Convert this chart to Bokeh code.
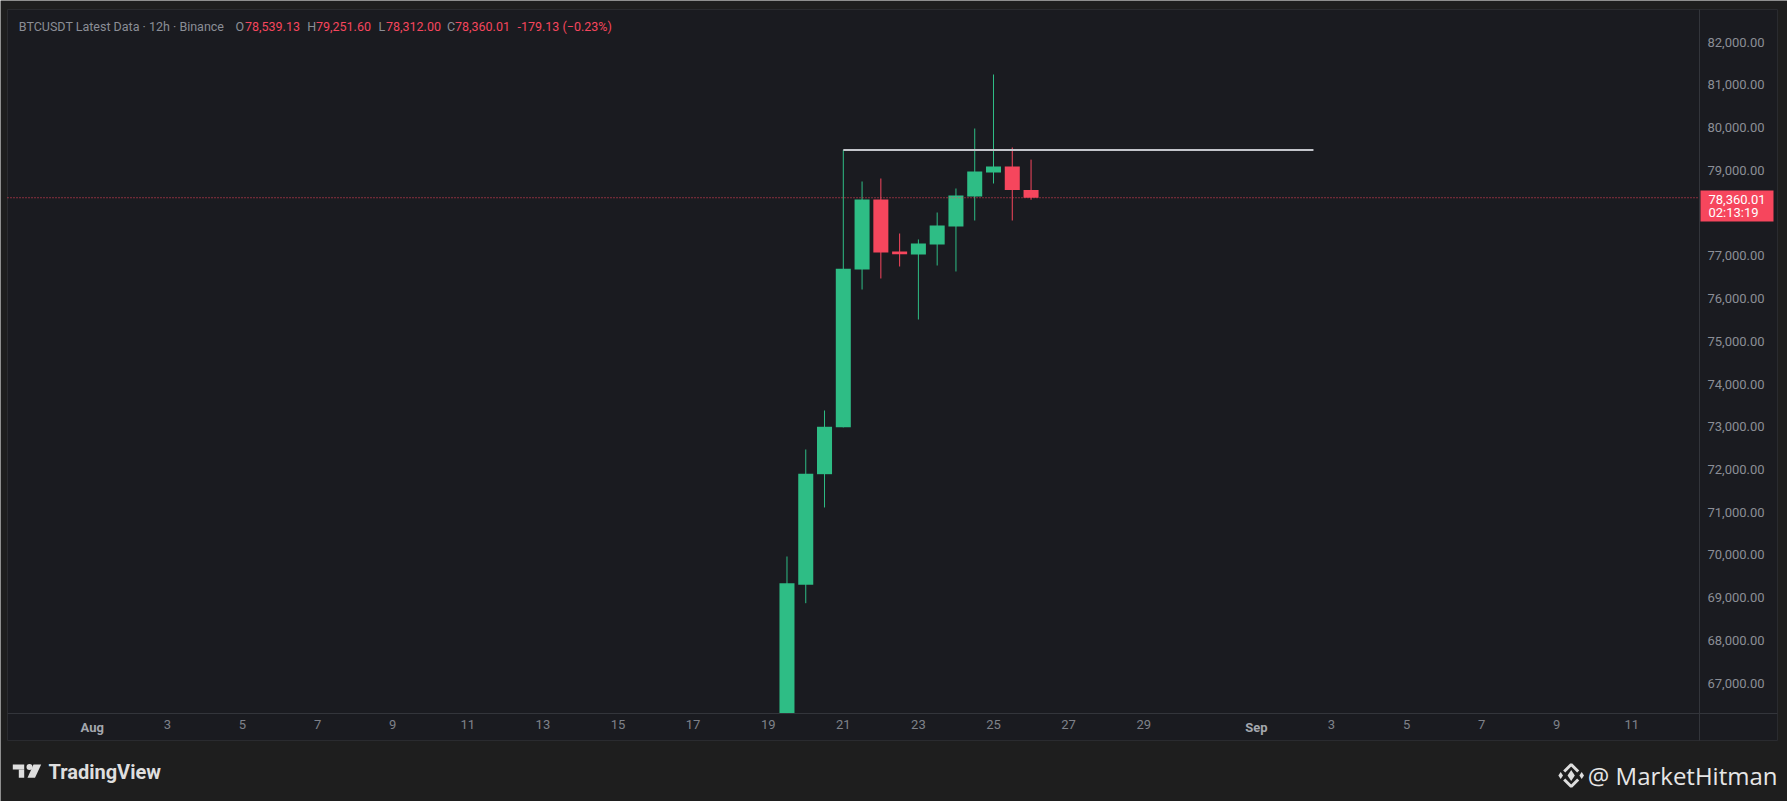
import pandas as pd
from bokeh.plotting import figure
from bokeh.models import ColumnDataSource, Range1d, FixedTicker, NumeralTickFormatter, LinearAxis, Label
from bokeh.embed import file_html
from bokeh.resources import INLINE
from bokeh.core.properties import value

# ---------------- data ----------------
times = ["2024-08-19 12:00", "2024-08-20 00:00", "2024-08-20 12:00", "2024-08-21 00:00",
         "2024-08-21 12:00", "2024-08-22 00:00", "2024-08-22 12:00", "2024-08-23 00:00",
         "2024-08-23 12:00", "2024-08-24 00:00", "2024-08-24 12:00", "2024-08-25 00:00",
         "2024-08-25 12:00", "2024-08-26 00:00"]
opens = [66300, 69300, 71890, 72990, 76680, 78319, 77102, 77032, 77266, 77687, 78389, 78951, 79091, 78539.13]
highs = [69964, 72468, 73381, 79480, 78740, 78810, 77523, 77383, 78014, 78576, 79980, 81244, 79536, 79251.60]
lows = [66300, 68871, 71111, 72985, 76212, 76470, 76751, 75510, 76774, 76634, 77827, 78693, 77827, 78312.00]
closes = [69340, 71900, 73000, 76700, 78319, 77078, 77039, 77289, 77710, 78412, 78974, 79091, 78539.14, 78360.01]

tick_dates = ["2024-08-01", "2024-08-03", "2024-08-05", "2024-08-07", "2024-08-09", "2024-08-11",
              "2024-08-13", "2024-08-15", "2024-08-17", "2024-08-19", "2024-08-21", "2024-08-23",
              "2024-08-25", "2024-08-27", "2024-08-29", "2024-09-01", "2024-09-03", "2024-09-05",
              "2024-09-07", "2024-09-09", "2024-09-11"]
tick_labels = ["Aug", "3", "5", "7", "9", "11", "13", "15", "17", "19", "21", "23", "25", "27", "29",
               "Sep", "3", "5", "7", "9", "11"]
price_ticks = [67000, 68000, 69000, 70000, 71000, 72000, 73000, 74000, 75000, 76000, 77000,
               78000, 79000, 80000, 81000, 82000]

level_times = ["2024-08-21 00:00", "2024-09-02 12:30"]
level_prices = [79480, 79480]

countdown = "02:13:19"
symbol_text = "BTCUSDT Latest Data \u00b7 12h \u00b7 Binance"

# ---------------- styles ----------------
OUTER = "#1e1e1e"
PANEL = "#1a1b20"
EDGE = "#2a2b2f"
GREEN = "#2ebd85"
RED = "#f6465d"
GREY = "#8b8e96"
DAYGREY = "#7f828a"
MONTHGREY = "#a4a7ae"
SEP = "#33353b"
FONT = "Roboto"
W, H = 1787, 801

origin = pd.Timestamp("2024-08-01")


def to_day(t):
    return (pd.Timestamp(t) - origin) / pd.Timedelta(days=1)


# pixel calibration helpers for placing decorations (page px -> data)
def dx(px):
    return (px - 91.8) / 37.55


def vy(py):
    return 82000 + (41.7 - py) * 23.403


xs = [to_day(t) for t in times]
colors = [GREEN if c >= o else RED for o, c in zip(opens, closes)]
src = ColumnDataSource(dict(
    x=xs, high=highs, low=lows,
    top=[max(o, c) for o, c in zip(opens, closes)],
    bottom=[min(o, c) for o, c in zip(opens, closes)],
    color=colors,
))

p = figure(frame_width=W, frame_height=H,
           x_range=Range1d(dx(0), dx(W)), y_range=Range1d(vy(H), vy(0)),
           output_backend="svg", toolbar_location=None, y_axis_location="right",
           min_border=0, background_fill_color=OUTER, border_fill_color=OUTER,
           outline_line_color=None)
p.grid.visible = False

# chart panel and separators
p.quad(left=[dx(7)], right=[dx(1777)], top=[vy(9)], bottom=[vy(740)],
       fill_color=PANEL, line_color=EDGE, line_width=1, level="underlay")
p.segment(x0=[dx(7), dx(1699)], y0=[vy(713), vy(9)], x1=[dx(1777), dx(1699)], y1=[vy(713), vy(740)],
          line_color=SEP, line_width=1, level="underlay")

# candles
p.segment(x0="x", y0="low", x1="x", y1="high", line_color="color", line_width=1, source=src)
p.vbar(x="x", width=0.4, top="top", bottom="bottom", fill_color="color", line_color=None, source=src)

# horizontal level
p.line([to_day(t) for t in level_times], level_prices, line_color="#c3c5cb", line_width=2)

# last price dotted line
p.segment(x0=[dx(7)], y0=[closes[-1]], x1=[dx(1699)], y1=[closes[-1]],
          line_color=RED, line_dash="1 2", line_width=1)

# ---------------- axes (pinned to the panel edges) ----------------
day_ticks = [int(round(to_day(d))) for d, l in zip(tick_dates, tick_labels) if not l.isalpha()]
day_labels = [l for l in tick_labels if not l.isalpha()]
month_ticks = [int(round(to_day(d))) for d, l in zip(tick_dates, tick_labels) if l.isalpha()]
month_labels = [l for l in tick_labels if l.isalpha()]

xa = p.xaxis[0]
xa.fixed_location = vy(713)
xa.ticker = FixedTicker(ticks=day_ticks)
xa.major_label_overrides = {t: l for t, l in zip(day_ticks, day_labels)}
xa.major_label_text_color = DAYGREY

ma = LinearAxis(fixed_location=vy(713), ticker=FixedTicker(ticks=month_ticks),
                major_label_overrides={t: l for t, l in zip(month_ticks, month_labels)})
ma.major_label_text_color = MONTHGREY
ma.major_label_text_font_style = "bold"
p.add_layout(ma, "below")

ya = p.yaxis[0]
ya.fixed_location = dx(1699)
ya.ticker = FixedTicker(ticks=price_ticks)
ya.formatter = NumeralTickFormatter(format="0,0.00")
ya.major_label_text_color = GREY

for ax in (xa, ma, ya):
    ax.axis_line_color = None
    ax.major_tick_line_color = None
    ax.minor_tick_line_color = None
    ax.major_tick_out = 0
    ax.major_tick_in = 0
    ax.minor_tick_out = 0
    ax.major_label_text_font = FONT
    ax.major_label_text_font_size = "13px"
xa.major_label_standoff = 6
ma.major_label_standoff = 6
ya.major_label_standoff = 8

# ---------------- header legend ----------------
chg = closes[-1] - closes[-2]
pct = chg / closes[-2] * 100
header = [
    (18.3, symbol_text, GREY),
    (235, "O", GREY), (244.5, f"{opens[-1]:,.2f}", RED),
    (306.7, "H", GREY), (315.5, f"{highs[-1]:,.2f}", RED),
    (378, "L", GREY), (385.5, f"{lows[-1]:,.2f}", RED),
    (446.4, "C", GREY), (454.5, f"{closes[-1]:,.2f}", RED),
    (517, f"{chg:,.2f} ({pct:.2f}%)".replace("(-", "(\u2212"), RED),
]
for px, txt, col in header:
    p.add_layout(Label(x=dx(px), y=vy(26), text=txt, text_color=col, text_font=FONT,
                       text_font_size="12.5px", text_baseline="middle", text_align="left"))

# ---------------- last price tag on the price scale (drawn over the axis labels) ----------------
p.quad(left=[dx(1700)], right=[dx(1773)], top=[vy(190)], bottom=[vy(221)],
       fill_color=RED, line_color=None, level="overlay")
p.text(x=[dx(1708), dx(1708)], y=[vy(198.5), vy(212)],
       text=[f"{closes[-1]:,.2f}", countdown], text_color="#ffffff", text_font=value(FONT),
       text_font_size="13px", text_baseline="middle", text_align="left", level="overlay")

# ---------------- footer watermarks ----------------
LOGO = "#dedede"
p.quad(left=[dx(12.3), dx(18.3)], right=[dx(23.7), dx(23.7)], top=[vy(764), vy(769)],
       bottom=[vy(769), vy(777.3)], fill_color=LOGO, line_color=None)
p.scatter(x=[dx(29)], y=[vy(766.6)], marker="circle", size=6, fill_color=LOGO, line_color=None)
p.patch([dx(33), dx(40.7), dx(34.5), dx(27)], [vy(764), vy(764), vy(777.3), vy(777.3)],
        fill_color=LOGO, line_color=None)
p.text(x=[dx(48)], y=[vy(771.7)], text=["TradingView"], text_font=value(FONT),
       text_font_style="bold", text_font_size="20px", text_color=LOGO,
       text_baseline="middle", text_align="left")

bx, by = 1570.7, 775
p.scatter(x=[dx(bx), dx(bx - 10.5), dx(bx + 10.5)], y=[vy(by)] * 3, marker="diamond",
          size=[11, 7, 7], fill_color=LOGO, line_color=None)
p.line([dx(bx - 7), dx(bx), dx(bx + 7)], [vy(by - 4), vy(by - 11), vy(by - 4)],
       line_color=LOGO, line_width=3)
p.line([dx(bx - 7), dx(bx), dx(bx + 7)], [vy(by + 4), vy(by + 11), vy(by + 4)],
       line_color=LOGO, line_width=3)
p.text(x=[dx(1777)], y=[vy(775)], text=["@ MarketHitman"], text_font=value("Open Sans"),
       text_font_size="24px", text_color="#e6e6e6", text_baseline="middle", text_align="right")

open("out.html", "w").write(file_html(p, INLINE))
